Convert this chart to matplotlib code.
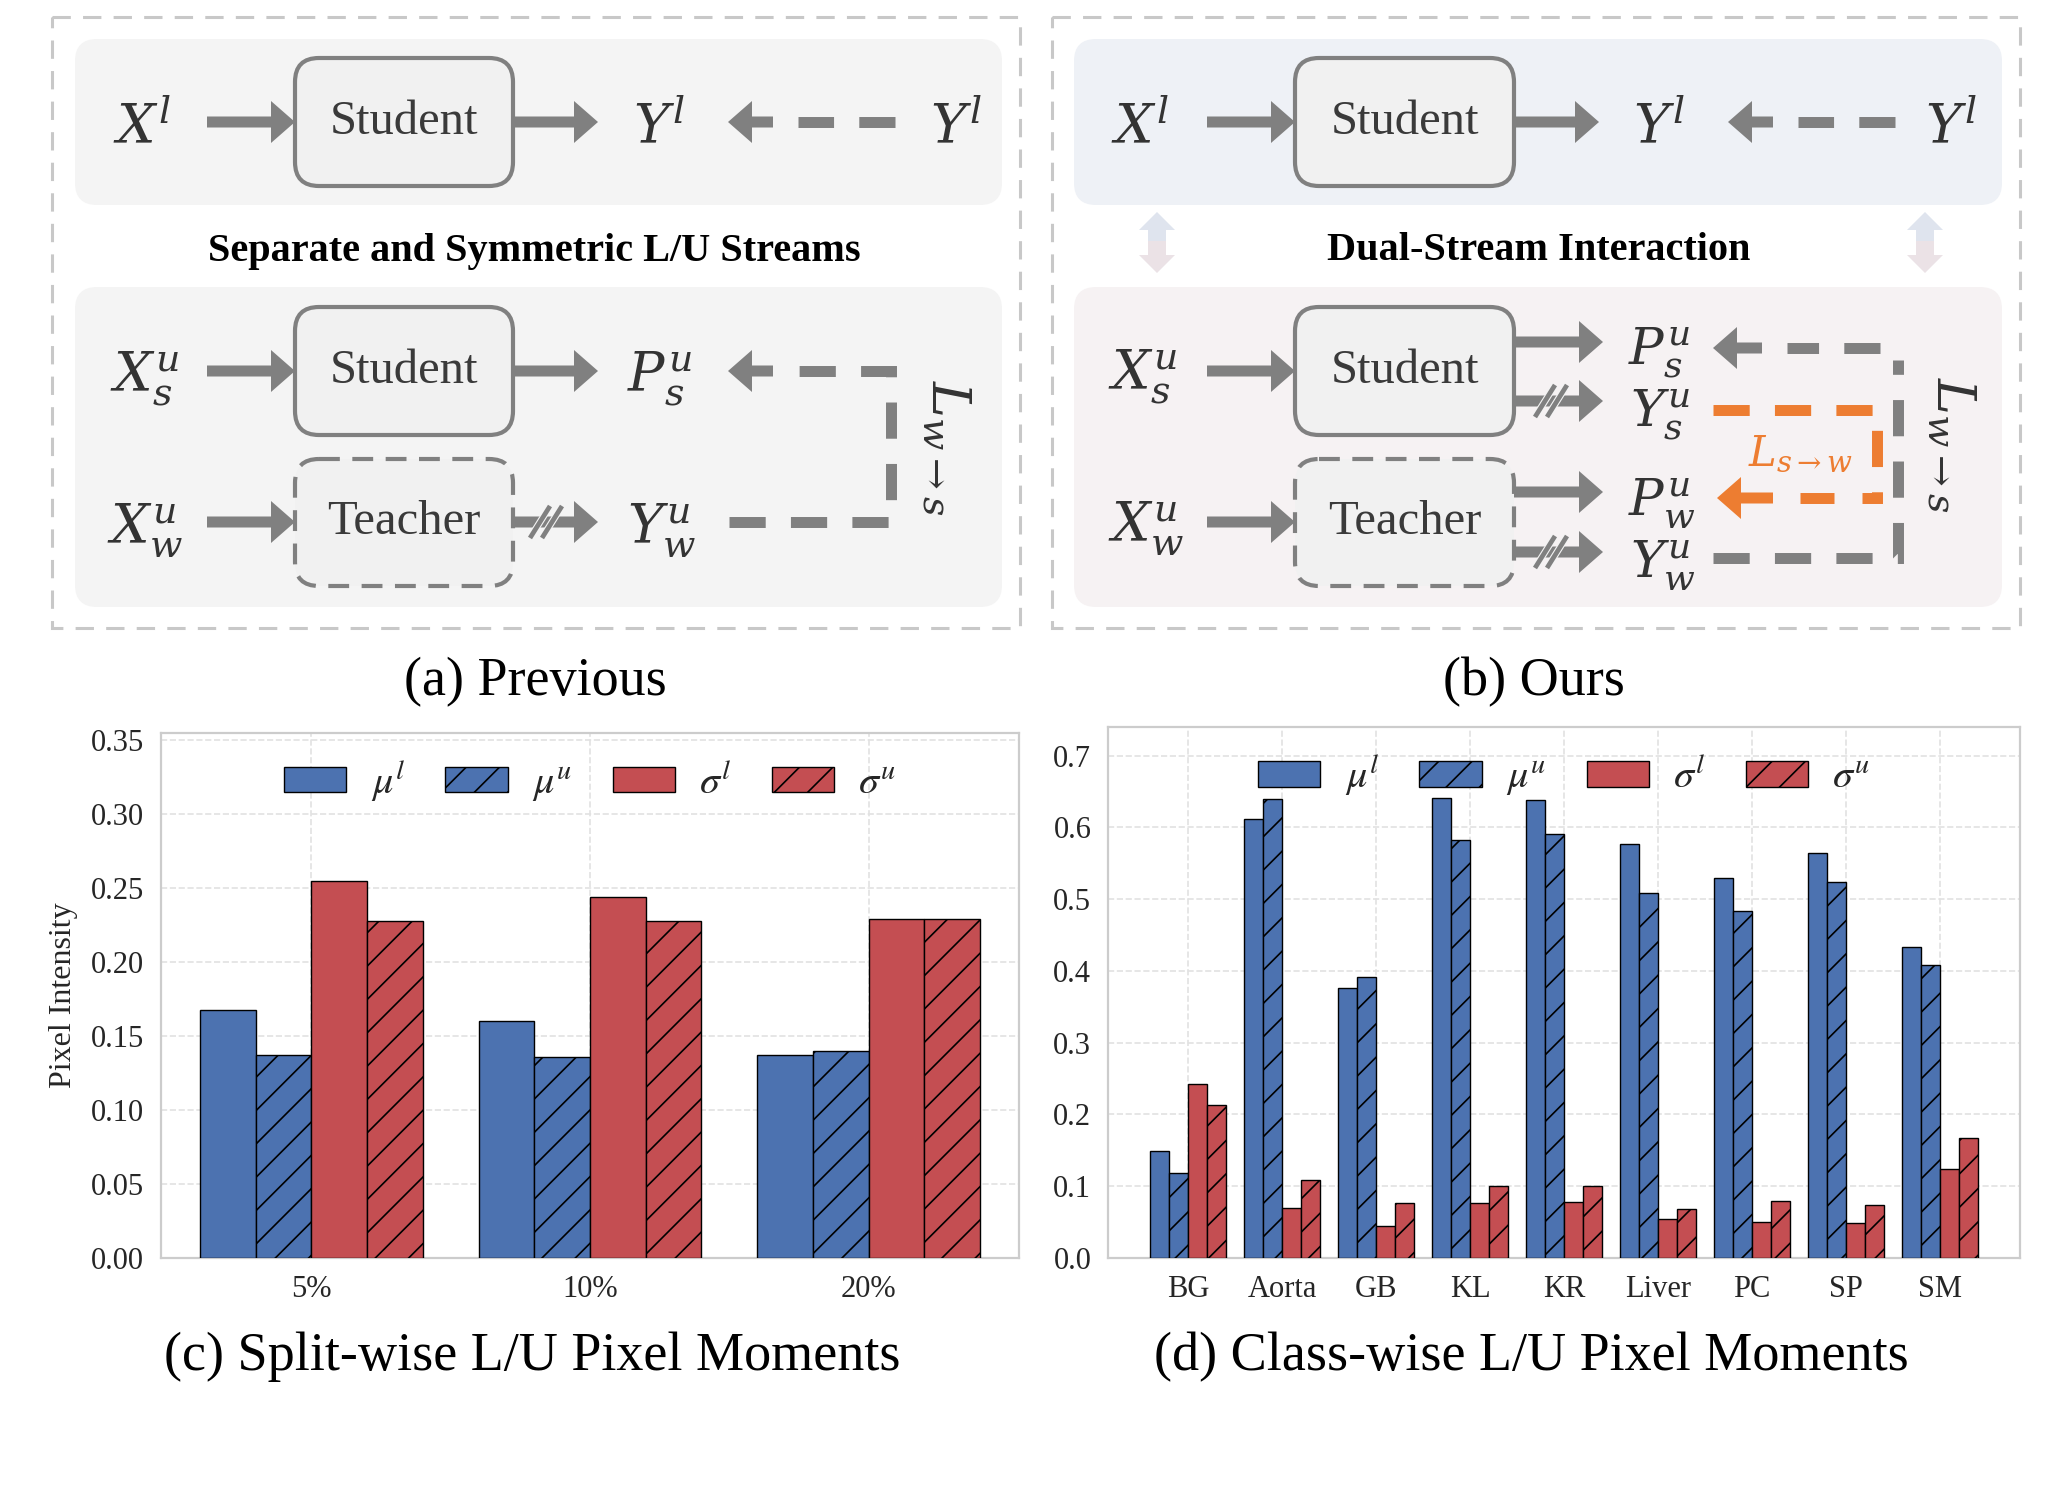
import matplotlib
matplotlib.use('Agg')
import matplotlib.pyplot as plt
import matplotlib.patheffects as pe
from matplotlib.patches import FancyBboxPatch, FancyArrow, Rectangle
import numpy as np

# ---- data -------------------------------------------------------------
splits = ['5%', '10%', '20%']
split_mu_l = [0.168, 0.160, 0.137]
split_mu_u = [0.137, 0.136, 0.140]
split_sigma_l = [0.255, 0.244, 0.229]
split_sigma_u = [0.228, 0.228, 0.229]

classes = ['BG', 'Aorta', 'GB', 'KL', 'KR', 'Liver', 'PC', 'SP', 'SM']
class_mu_l = [0.149, 0.612, 0.376, 0.641, 0.638, 0.577, 0.529, 0.564, 0.433]
class_mu_u = [0.119, 0.639, 0.391, 0.583, 0.591, 0.509, 0.484, 0.524, 0.408]
class_sigma_l = [0.243, 0.069, 0.045, 0.076, 0.078, 0.054, 0.050, 0.049, 0.124]
class_sigma_u = [0.213, 0.109, 0.077, 0.101, 0.100, 0.068, 0.079, 0.074, 0.167]

series_labels = [r'$\mu^l$', r'$\mu^u$', r'$\sigma^l$', r'$\sigma^u$']

BLUE = '#4C72B0'
RED = '#C44E52'
GREY = '#808080'
ORANGE = '#ED7D31'
TXT = '#3a3a3a'

plt.rcParams['font.family'] = ['Liberation Serif', 'DejaVu Serif']
plt.rcParams['mathtext.fontset'] = 'dejavuserif'
plt.rcParams['hatch.linewidth'] = 1.2

fig = plt.figure(figsize=(20.56, 15), dpi=100)

# overlay axes in pixel units for the two diagrams
d = fig.add_axes([0, 0, 1, 1])
d.set_xlim(0, 2056)
d.set_ylim(1500, 0)
d.axis('off')


def outer(x0, y0, x1, y1):
    d.add_patch(Rectangle((x0, y0), x1 - x0, y1 - y0, fill=False, ec='#c8c8c8',
                          lw=2.2, ls=(0, (6, 4))))


def panel(x0, y0, x1, y1, fc):
    d.add_patch(FancyBboxPatch((x0, y0), x1 - x0, y1 - y0,
                               boxstyle='round,pad=0,rounding_size=22', fc=fc, ec='none'))


def box(x0, y0, x1, y1, label, dashed=False):
    d.add_patch(FancyBboxPatch((x0, y0), x1 - x0, y1 - y0,
                               boxstyle='round,pad=0,rounding_size=24', fc='#f1f1f1',
                               ec=GREY, lw=3, ls=(0, (5, 3)) if dashed else '-'))
    d.text((x0 + x1) / 2, (y0 + y1) / 2, label, fontsize=35, color=TXT,
           ha='center', va='center')


def arrow(x0, x1, y, color=GREY):
    d.add_patch(FancyArrow(x0, y, x1 - x0, 0, width=11, head_width=42, head_length=24,
                           length_includes_head=True, fc=color, ec='none'))


def dline(xs, ys, color=GREY):
    d.plot(xs, ys, color=color, lw=7.9, ls=(0, (3.3, 2.3)),
           dash_capstyle='butt', dash_joinstyle='miter')


def stopgrad(cx, y):
    for dx in (-6, 6):
        d.plot([cx + dx - 10, cx + dx + 10], [y + 16, y - 16], color=GREY, lw=3.4,
               solid_capstyle='butt',
               path_effects=[pe.Stroke(linewidth=5, foreground='#f4f4f4'), pe.Normal()])


def m(x, y, s, size=39, color='#333333', **kw):
    d.text(x, y, s, fontsize=size, color=color, ha='left', va='baseline', **kw)


# ---- (a) previous --------------------------------------------------------
outer(52, 17, 1020, 628)
panel(75, 39, 1002, 205, '#f4f4f4')
panel(75, 287, 1002, 607, '#f4f4f4')

m(113, 143, r'$X^l$')
arrow(207, 295, 122)
box(295, 58, 513, 186, 'Student')
arrow(513, 598, 122)
m(633, 143, r'$Y^l$')
dline([895, 798], [122, 122])
arrow(773, 728, 122)
m(930, 143, r'$Y^l$')

d.text(534, 251, 'Separate and Symmetric L/U Streams', fontsize=29, fontweight='bold',
       ha='center', va='center', color='black')

m(110, 392, r'$X_s^u$')
arrow(207, 295, 371)
box(295, 307, 513, 435, 'Student')
arrow(513, 598, 371)
m(627, 392, r'$P_s^u$')

m(107, 543, r'$X_w^u$')
arrow(207, 295, 522)
box(295, 459, 513, 586, 'Teacher', dashed=True)
arrow(513, 598, 522)
stopgrad(546, 522)
m(627, 543, r'$Y_w^u$')

dline([729, 891, 891, 798], [522, 522, 371, 371])
arrow(773, 728, 371)
d.text(945, 448, r'$L_{w{\rightarrow}s}$', fontsize=39, color='#333333', rotation=-90,
       ha='center', va='center')

d.text(535, 682, '(a) Previous', fontsize=39, ha='center', va='center', color='black')

# ---- (b) ours ---------------------------------------------------------------
outer(1052, 17, 2020, 628)
panel(1074, 39, 2002, 205, '#eef1f6')
panel(1074, 287, 2002, 607, '#f6f2f3')

m(1111, 143, r'$X^l$')
arrow(1207, 1295, 122)
box(1295, 58, 1514, 186, 'Student')
arrow(1514, 1599, 122)
m(1633, 143, r'$Y^l$')
dline([1895, 1798], [122, 122])
arrow(1773, 1728, 122)
m(1925, 143, r'$Y^l$')

for cx in (1157, 1925):
    d.add_patch(FancyArrow(cx, 242, 0, -30, width=18, head_width=36, head_length=18,
                           length_includes_head=True, fc='#dfe4ee', ec='none'))
    d.add_patch(FancyArrow(cx, 241, 0, 32, width=18, head_width=36, head_length=18,
                           length_includes_head=True, fc='#ebe2e6', ec='none'))

d.text(1539, 251, 'Dual-Stream Interaction', fontsize=29, fontweight='bold',
       ha='center', va='center', color='black')

m(1108, 390, r'$X_s^u$')
arrow(1207, 1295, 371)
box(1295, 307, 1514, 435, 'Student')
arrow(1514, 1603, 342)
arrow(1514, 1603, 401)
stopgrad(1551, 401)
m(1628, 365, r'$P_s^u$', size=37)
m(1630, 427, r'$Y_s^u$', size=37)

m(1108, 541, r'$X_w^u$')
arrow(1207, 1295, 522)
box(1295, 459, 1514, 586, 'Teacher', dashed=True)
arrow(1514, 1603, 492)
arrow(1514, 1603, 552)
stopgrad(1551, 552)
m(1628, 515, r'$P_w^u$', size=37)
m(1630, 577, r'$Y_w^u$', size=37)

# grey loop Y_w -> P_s
dline([1713, 1898, 1898], [558, 558, 360])
dline([1880, 1787], [348, 348])
arrow(1762, 1713, 348)
# orange loop Y_s -> P_w
dline([1713, 1877, 1877, 1862], [410, 410, 498, 498], color=ORANGE)
dline([1834, 1800], [498, 498], color=ORANGE)
arrow(1773, 1717, 498, color=ORANGE)
d.text(1748, 465, r'$L_{s{\rightarrow}w}$', fontsize=30, color=ORANGE, ha='left',
       va='baseline')
d.text(1950, 445, r'$L_{w{\rightarrow}s}$', fontsize=39, color='#333333', rotation=-90,
       ha='center', va='center')

d.text(1534, 682, '(b) Ours', fontsize=39, ha='center', va='center', color='black')


# ---- bar charts -----------------------------------------------------------
def bars(ax, cats, series, xlim, ylim, yticks, fmt):
    x = np.arange(len(cats))
    w = 0.2
    styles = [(BLUE, ''), (BLUE, '/'), (RED, ''), (RED, '/')]
    for i, (vals, (c, h), lab) in enumerate(zip(series, styles, series_labels)):
        ax.bar(x + (i - 1.5) * w, vals, w, color=c, hatch=h, edgecolor='black',
               lw=1.0, label=lab, zorder=3)
    ax.set_xticks(x, cats)
    ax.set_yticks(yticks, [fmt % v for v in yticks])
    ax.set_xlim(*xlim)
    ax.set_ylim(*ylim)
    ax.grid(True, ls='--', color='#e2e2e2', lw=1.2, zorder=0)
    ax.set_axisbelow(True)
    for s in ax.spines.values():
        s.set_color('#cccccc')
        s.set_linewidth(1.6)
    ax.tick_params(length=0, labelsize=22, labelcolor='#262626')
    ax.tick_params(axis='x', pad=12)
    ax.tick_params(axis='y', pad=12)
    leg = ax.legend(loc='center', bbox_to_anchor=(0.5, 0.91), ncol=4, frameon=False,
                    fontsize=29, handlelength=1.55, handleheight=0.6,
                    handletextpad=0.6, columnspacing=1.0)
    for t in leg.get_texts():
        t.set_math_fontfamily('stix')
        t.set_color('#262626')
    return ax


axc = fig.add_axes([161 / 2056, 242 / 1500, 858 / 2056, 525 / 1500])
bars(axc, splits, [split_mu_l, split_mu_u, split_sigma_l, split_sigma_u],
     (-0.54, 2.54), (0, 0.355), np.arange(0, 0.351, 0.05), '%.2f')
axc.set_ylabel('Pixel Intensity', fontsize=23, color='#262626')
axc.yaxis.set_label_coords(-0.097, 0.5)

axd = fig.add_axes([1108 / 2056, 242 / 1500, 912 / 2056, 531 / 1500])
bars(axd, classes, [class_mu_l, class_mu_u, class_sigma_l, class_sigma_u],
     (-0.85, 8.85), (0, 0.74), np.arange(0, 0.71, 0.1), '%.1f')

d.text(532, 1357, '(c) Split-wise L/U Pixel Moments', fontsize=39, ha='center',
       va='center', color='black')
d.text(1531, 1357, '(d) Class-wise L/U Pixel Moments', fontsize=39, ha='center',
       va='center', color='black')

fig.savefig('out.png', dpi=100, facecolor='white')
